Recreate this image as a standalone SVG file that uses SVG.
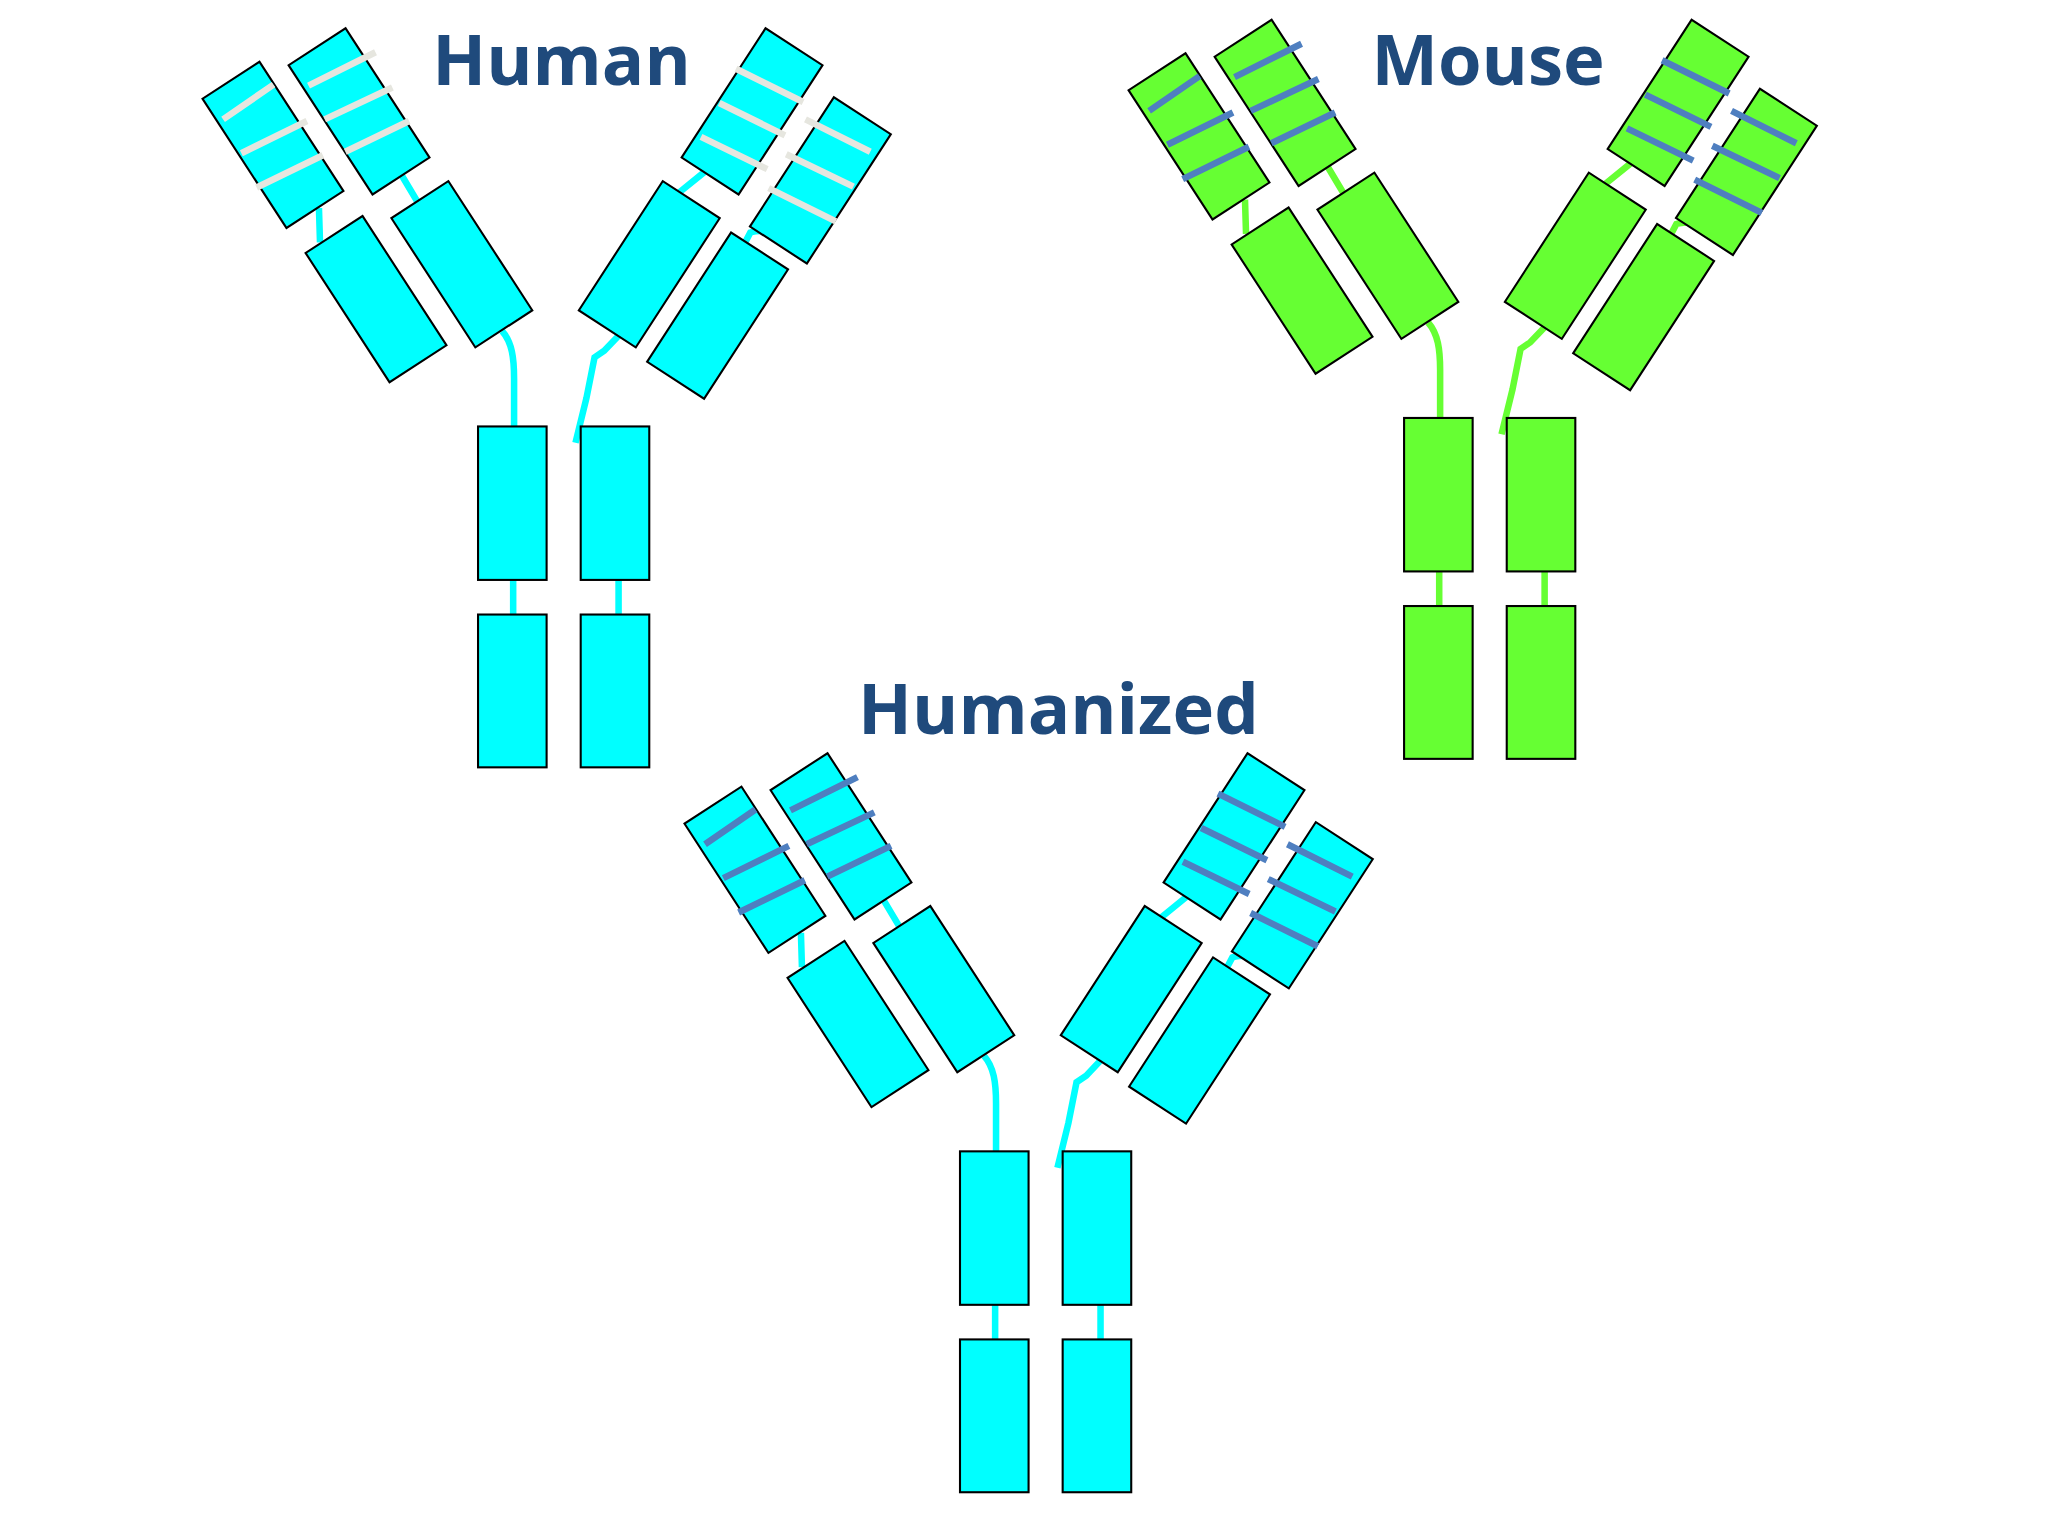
<svg xmlns="http://www.w3.org/2000/svg" xmlns:xlink="http://www.w3.org/1999/xlink" width="2048" height="1536" viewBox="0 0 2048 1536">
<style>
.d{stroke:#000;stroke-width:1.6}
.ln{fill:none;stroke:currentColor;stroke-width:5}
.cdr{fill:none;stroke-width:5}
.lbl{font-family:"Open Sans","Liberation Sans",sans-serif;font-weight:bold;font-size:54px;fill:#1f4a7c}
</style>
<defs>
<g id="body">
<g class="ln">
<path d="M392.9 444V470.5M473.6 444V470.5"/>
<path d="M384.4 253.4C392 262 393.6 274 393.6 290V326.5"/>
<path d="M473.6 257L462.6 268.6L455.2 273.6L449 304.8L440.6 339"/>
<path d="M244.2 159.3L245 185.5M307.4 134L319.5 154.3M539.7 131.4L519.5 147.8"/>
<path d="M600.2 176C590 177 580 176 574.5 178L570.9 184.8"/>
</g>
<g class="d">
<rect x="366" y="326.5" width="52.5" height="117.5"/>
<rect x="444.6" y="326.5" width="52.5" height="117.5"/>
<rect x="366" y="470.5" width="52.5" height="117"/>
<rect x="444.6" y="470.5" width="52.5" height="117"/>
<rect x="-26" y="-59" width="52" height="118" transform="translate(209 110.9) rotate(-33)"/>
<rect x="-26" y="-59" width="52" height="118" transform="translate(274.9 85.3) rotate(-33)"/>
<rect x="-26" y="-59" width="52" height="118" transform="translate(287.9 229) rotate(-33)"/>
<rect x="-26" y="-59" width="52" height="118" transform="translate(353.6 202.3) rotate(-33)"/>
<rect x="-26" y="-59" width="52" height="118" transform="translate(497.1 202.3) rotate(33)"/>
<rect x="-26" y="-59" width="52" height="118" transform="translate(575.8 85.3) rotate(33)"/>
<rect x="-26" y="-59" width="52" height="118" transform="translate(628.1 138.1) rotate(33)"/>
<rect x="-26" y="-59" width="52" height="118" transform="translate(549.4 241.6) rotate(33)"/>
</g>
</g>
<path id="cdrs" d="M170.8 91.4L209.4 64.8M184.8 117.3L235 92.6M196.5 143.6L247.2 118.9M236.2 65.5L287.5 40M248.6 91.4L300.4 67M264.4 116.2L313.2 92.6M563.5 52.6L614.9 78.1M550.7 78.9L601 103.6M536.7 104.8L587.4 129.5M616.7 91.4L666.3 116.2M602 118.1L653.4 142.9M588.5 144L639.9 169.5"/>
</defs>
<rect width="2048" height="1536" fill="#fff"/>
<g transform="scale(1.30612)">
<g id="human">
<use xlink:href="#body" fill="#00ffff" color="#00ffff"/>
<use xlink:href="#cdrs" class="cdr" stroke="#e6e6df"/>
<text class="lbl" x="331" y="65">Human</text>
</g>
<g id="mouse" transform="translate(709 -6.5)">
<use xlink:href="#body" fill="#66ff33" color="#66ff33"/>
<use xlink:href="#cdrs" class="cdr" stroke="#4f7fc0"/>
</g>
<text class="lbl" x="1050" y="65">Mouse</text>
<g id="humanized" transform="translate(369 555)">
<use xlink:href="#body" fill="#00ffff" color="#00ffff"/>
<use xlink:href="#cdrs" class="cdr" stroke="#4f7fc0"/>
</g>
<text class="lbl" x="657" y="562">Humanized</text>
</g>
</svg>
